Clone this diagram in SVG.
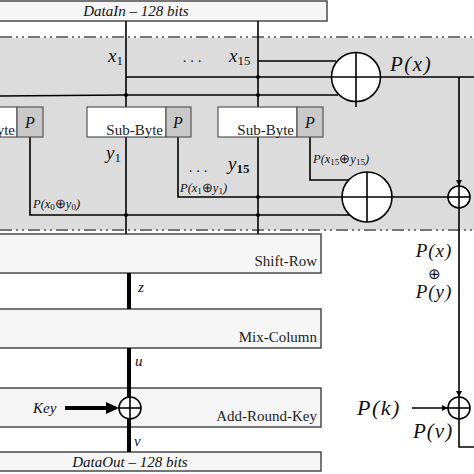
<svg xmlns="http://www.w3.org/2000/svg" width="474" height="474" viewBox="0 0 474 474">
<defs>
<style>
.box{fill:#f6f6f6;stroke:#4a4a4a;stroke-width:1.5}
.wb{fill:#ffffff;stroke:#555;stroke-width:1.2}
.pb{fill:#c9c9c9;stroke:#555;stroke-width:1.2}
.ln{stroke:#000;stroke-width:1.6;fill:none}
.thk{stroke:#000;stroke-width:4;fill:none}
.xor{fill:#fff;stroke:#000;stroke-width:1.6}
.dd{stroke:#777;stroke-width:2;stroke-dasharray:12 4 2 4 2 4;fill:none}
.lab{font-family:"Liberation Serif",serif;fill:#222}
.it{font-family:"Liberation Serif",serif;font-style:italic;fill:#111}
.sub{font-family:"Liberation Serif",serif;fill:#111}
</style>
<marker id="ah" viewBox="0 0 10 10" refX="10" refY="5" markerWidth="6" markerHeight="6" markerUnits="userSpaceOnUse" orient="auto"><path d="M0,0 L10,5 L0,10 z" fill="#000"/></marker>
</defs>
<rect x="0" y="0" width="474" height="474" fill="#fff"/>
<!-- gray region -->
<rect x="0" y="38" width="474" height="192" fill="#dcdcdc"/>
<line class="dd" x1="0" y1="37" x2="474" y2="37"/>
<line class="dd" x1="0" y1="230" x2="474" y2="230"/>

<g id="datain">
<rect class="box" x="-2" y="1" width="329" height="20" fill="#fff"/>
<text class="it" x="136" y="16" font-size="15" text-anchor="middle">DataIn – 128 bits</text>
</g>
<g id="shiftrow">
<rect class="box" x="-2" y="234" width="323" height="39"/>
<text class="lab" x="317" y="266" font-size="15" text-anchor="end">Shift-Row</text>
</g>
<g id="mixcolumn">
<rect class="box" x="-2" y="309" width="323" height="39"/>
<text class="lab" x="317" y="342" font-size="15" text-anchor="end">Mix-Column</text>
</g>
<g id="addroundkey">
<rect class="box" x="-2" y="388" width="323" height="39"/>
<text class="lab" x="317" y="421" font-size="15" text-anchor="end">Add-Round-Key</text>
</g>
<g id="dataout">
<rect class="box" x="-2" y="452" width="323" height="19" fill="#fff"/>
<text class="it" x="130" y="467" font-size="15" text-anchor="middle">DataOut – 128 bits</text>
</g>

<g id="connectors">
<line class="ln" x1="126" y1="21" x2="126" y2="107"/>
<line class="ln" x1="258" y1="21" x2="258" y2="107"/>
<line class="ln" x1="258" y1="61" x2="336" y2="61"/>
<line class="ln" x1="126" y1="77" x2="474" y2="77"/>
<line class="ln" x1="0" y1="96" x2="126" y2="95" stroke-width="2.2"/>
<line class="ln" x1="126" y1="95" x2="338" y2="95" stroke-width="2.2"/>
<circle cx="258" cy="77" r="2"/>
<circle cx="126" cy="95" r="2"/>
<circle cx="258" cy="95" r="2"/>
<line class="ln" x1="126" y1="137" x2="126" y2="234"/>
<line class="ln" x1="258" y1="137" x2="258" y2="234"/>
<polyline class="ln" points="30,137 30,215 350,215"/>
<polyline class="ln" points="178,137 178,197 343,197"/>
<polyline class="ln" points="310,137 310,180 352,180"/>
<circle cx="126" cy="215" r="2"/>
<circle cx="258" cy="215" r="2"/>
<circle cx="258" cy="197" r="2"/>
<line class="ln" x1="392" y1="197" x2="448" y2="197"/>
<line class="ln" x1="459" y1="77" x2="459" y2="186" marker-end="url(#ah)"/>
<line class="ln" x1="459" y1="208" x2="459" y2="397" marker-end="url(#ah)"/>
<line class="ln" x1="412" y1="408" x2="448" y2="408" marker-end="url(#ah)"/>
<polyline class="ln" points="459,419 459,447 474,447"/>
<line class="thk" x1="129" y1="273" x2="129" y2="309"/>
<line class="thk" x1="129" y1="348" x2="129" y2="452"/>
<line class="thk" x1="65" y1="408" x2="110" y2="408"/>
<path d="M106,402 L119,408 L106,414 z" fill="#000"/>
</g>

<g id="xor1">
<circle class="xor" cx="356" cy="77" r="24.5"/>
<line class="ln" x1="356" y1="53" x2="356" y2="107"/>
<line class="ln" x1="331" y1="77" x2="381" y2="77"/>
</g>
<g id="xor2">
<circle class="xor" cx="367" cy="197" r="25"/>
<line class="ln" x1="367" y1="172" x2="367" y2="222"/>
<line class="ln" x1="342" y1="197" x2="392" y2="197"/>
</g>
<g id="xor3">
<circle class="xor" cx="459" cy="197" r="11"/>
<line class="ln" x1="459" y1="186" x2="459" y2="208"/>
<line class="ln" x1="448" y1="197" x2="470" y2="197"/>
</g>
<g id="xorkey">
<circle class="xor" cx="130" cy="408" r="11"/>
<line class="ln" x1="130" y1="397" x2="130" y2="419"/>
<line class="ln" x1="119" y1="408" x2="141" y2="408"/>
</g>
<g id="xor4">
<circle class="xor" cx="459" cy="408" r="11"/>
<line class="ln" x1="459" y1="397" x2="459" y2="419"/>
<line class="ln" x1="448" y1="408" x2="470" y2="408"/>
</g>

<g id="subbyte0">
<rect class="wb" x="-5" y="107" width="22" height="30"/>
<rect class="pb" x="17" y="107" width="26" height="30"/>
<text class="lab" x="15" y="135" font-size="15" text-anchor="end">Sub-Byte</text>
<text class="it" x="30" y="128" font-size="16" text-anchor="middle">P</text>
</g>
<g id="subbyte1">
<rect class="wb" x="87" y="107" width="79" height="30"/>
<rect class="pb" x="166" y="107" width="25" height="30"/>
<text class="lab" x="163" y="135" font-size="15" text-anchor="end">Sub-Byte</text>
<text class="it" x="178" y="128" font-size="16" text-anchor="middle">P</text>
</g>
<g id="subbyte15">
<rect class="wb" x="218" y="107" width="79" height="30"/>
<rect class="pb" x="297" y="107" width="26" height="30"/>
<text class="lab" x="294" y="135" font-size="15" text-anchor="end">Sub-Byte</text>
<text class="it" x="310" y="128" font-size="16" text-anchor="middle">P</text>
</g>

<g id="labels">
<text class="it" x="108" y="62" font-size="19">x<tspan class="sub" font-style="normal" font-size="13" dy="3">1</tspan></text>
<text class="lab" x="192" y="62" font-size="15" text-anchor="middle">. . .</text>
<text class="it" x="229" y="62" font-size="19">x<tspan class="sub" font-style="normal" font-size="13" dy="3">15</tspan></text>
<text class="it" x="390" y="71" font-size="21" letter-spacing="1.5">P(x)</text>
<text class="it" x="106" y="159" font-size="19">y<tspan class="sub" font-style="normal" font-size="13" dy="3">1</tspan></text>
<text class="lab" x="198" y="172" font-size="15" text-anchor="middle">. . .</text>
<text class="it" x="228" y="170" font-size="19">y<tspan class="sub" font-style="normal" font-size="13" font-weight="bold" dy="3">15</tspan></text>
<text class="it" x="33" y="208" font-size="12.5">P(x<tspan font-size="9" font-style="normal" dy="2">0</tspan><tspan dy="-2" font-style="normal">⊕</tspan>y<tspan font-size="9" font-style="normal" dy="2">0</tspan><tspan dy="-2">)</tspan></text>
<text class="it" x="180" y="192" font-size="12.5">P(x<tspan font-size="9" font-style="normal" dy="2">1</tspan><tspan dy="-2" font-style="normal">⊕</tspan>y<tspan font-size="9" font-style="normal" dy="2">1</tspan><tspan dy="-2">)</tspan></text>
<text class="it" x="313" y="163" font-size="12.5">P(x<tspan font-size="9" font-style="normal" dy="2">15</tspan><tspan dy="-2" font-style="normal">⊕</tspan>y<tspan font-size="9" font-style="normal" dy="2">15</tspan><tspan dy="-2">)</tspan></text>
<text class="it" x="434" y="257" font-size="19" text-anchor="middle" letter-spacing="1">P(x)</text>
<text class="sub" x="434" y="279" font-size="15" text-anchor="middle">⊕</text>
<text class="it" x="434" y="298" font-size="19" text-anchor="middle" letter-spacing="1">P(y)</text>
<text class="it" x="138" y="292" font-size="15">z</text>
<text class="it" x="135" y="366" font-size="15">u</text>
<text class="it" x="134" y="446" font-size="15">v</text>
<text class="it" x="33" y="413" font-size="15">Key</text>
<text class="it" x="357" y="415" font-size="22" letter-spacing="1.5">P(k)</text>
<text class="it" x="413" y="438" font-size="21" letter-spacing="1">P(v)</text>
</g>
</svg>
